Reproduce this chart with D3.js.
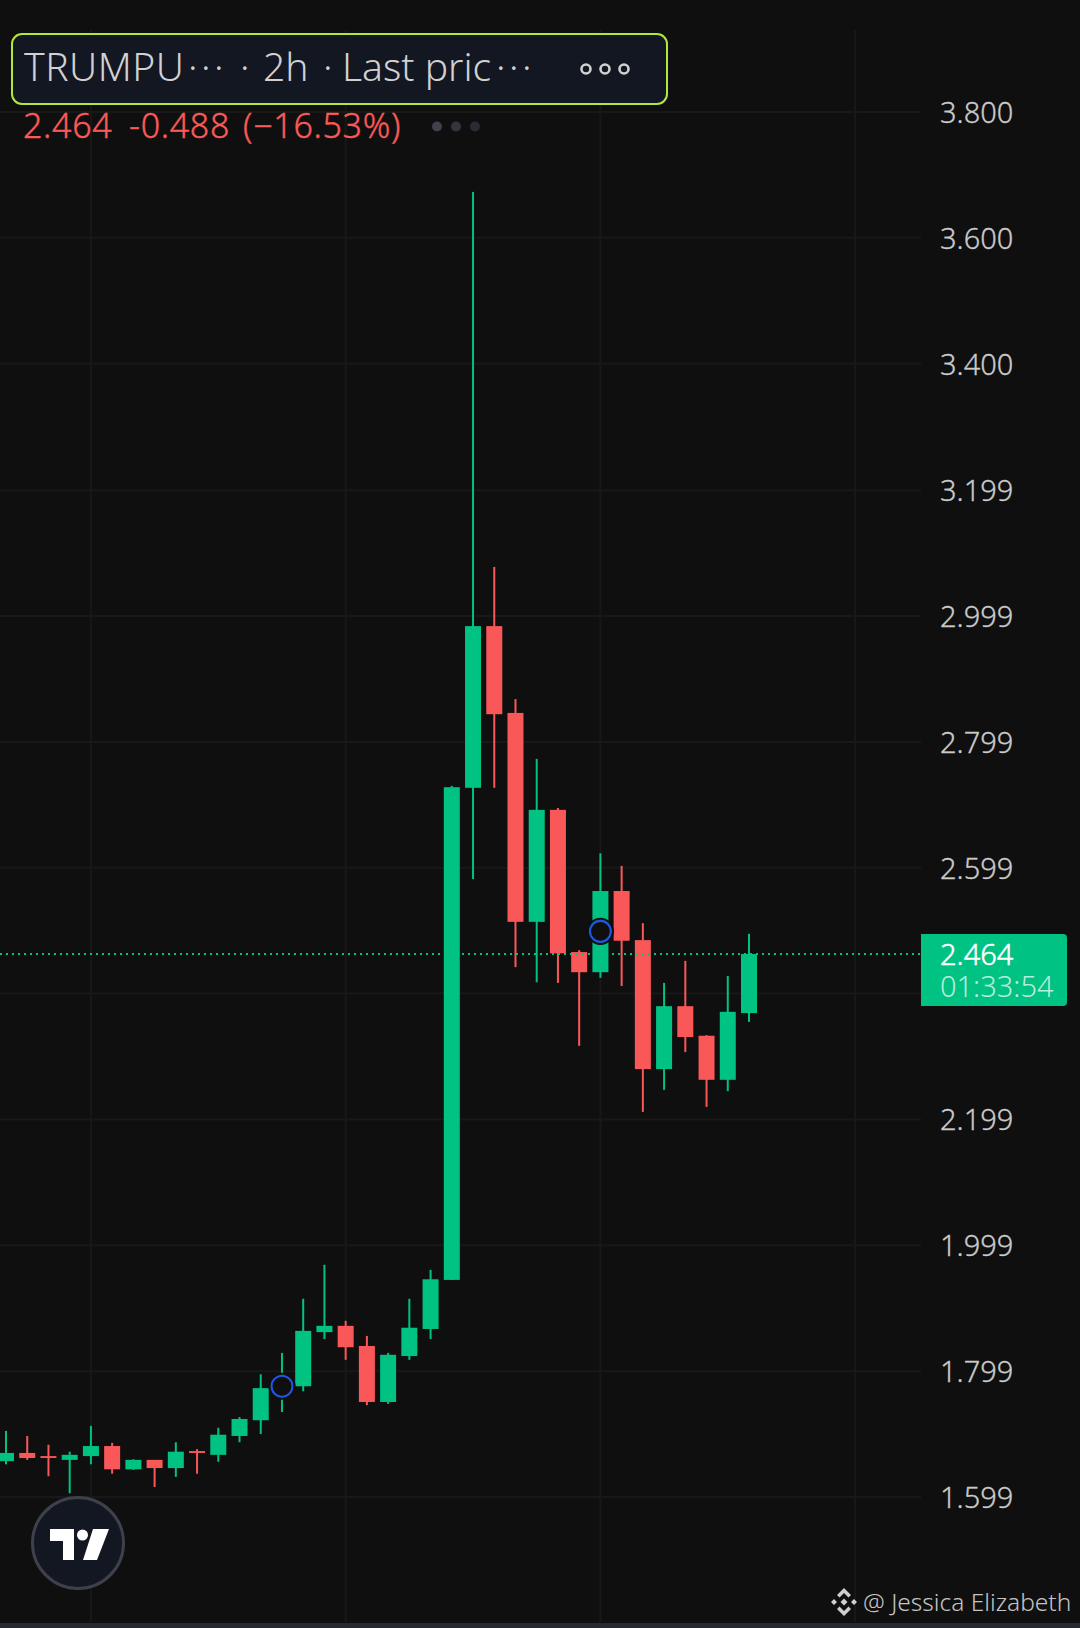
<!DOCTYPE html>
<html>
<head>
<meta charset="utf-8">
<script src="https://cdn.jsdelivr.net/npm/d3@7"></script>
<style>
  html, body { margin: 0; padding: 0; background: #0f0f0f; }
  svg { display: block; }
  text { font-family: "Noto Sans", sans-serif; font-weight: 300; }
</style>
</head>
<body>
<div id="viz"></div>
<script>
// 2h candles
const opens  = [1.656,1.669,1.664,1.658,1.664,1.680,1.643,1.658,1.645,1.672,1.666,1.696,1.721,1.772,1.775,1.861,1.871,1.839,1.750,1.823,1.866,1.944,2.726,2.983,2.845,2.513,2.691,2.465,2.433,2.562,2.484,2.279,2.379,2.332,2.262,2.368];
const highs  = [1.704,1.696,1.682,1.671,1.712,1.685,1.659,1.658,1.686,1.675,1.709,1.726,1.794,1.828,1.914,1.968,1.879,1.855,1.828,1.914,1.960,2.729,3.673,3.077,2.867,2.772,2.694,2.468,2.622,2.602,2.511,2.416,2.451,2.333,2.427,2.494];
const lows   = [1.651,1.658,1.632,1.605,1.651,1.636,1.642,1.615,1.631,1.636,1.655,1.686,1.699,1.734,1.767,1.850,1.817,1.745,1.747,1.817,1.850,1.944,2.581,2.726,2.441,2.417,2.416,2.316,2.424,2.411,2.211,2.246,2.306,2.219,2.244,2.354];
const closes = [1.669,1.661,1.661,1.666,1.680,1.643,1.658,1.645,1.671,1.669,1.698,1.723,1.772,1.783,1.863,1.871,1.837,1.750,1.825,1.868,1.945,2.727,2.983,2.843,2.513,2.691,2.463,2.433,2.562,2.483,2.279,2.379,2.330,2.262,2.370,2.462];

const priceTicks  = [3.8,3.6,3.4,3.199,2.999,2.799,2.599,2.399,2.199,1.999,1.799,1.599];
const priceLabels = ["3.800","3.600","3.400","3.199","2.999","2.799","2.599","2.399","2.199","1.999","1.799","1.599"];
const timeGridBars = [4,16,28,40];  // one line every 12 bars

// blue event circles on the chart
const markerBars   = [13,28];
const markerPrices = [1.775,2.498];

const width = 1080, height = 1628, plotRight = 921;
const GREEN = "#00c283", RED = "#fa5858", BG = "#0f0f0f", GRID = "#181818";

const x = d3.scaleLinear().domain([0,35]).range([6,749]);
const y = d3.scaleLinear().domain([1.599,3.8]).range([1497,112]);

const svg = d3.select("#viz").append("svg")
    .attr("width", width)
    .attr("height", height)
    .style("background", BG);

// grid
svg.append("g").selectAll("line").data(priceTicks).join("line")
    .attr("x1", 0).attr("x2", plotRight)
    .attr("y1", d => y(d)).attr("y2", d => y(d))
    .attr("stroke", GRID).attr("stroke-width", 2);
svg.append("g").selectAll("line").data(timeGridBars).join("line")
    .attr("x1", d => x(d)).attr("x2", d => x(d))
    .attr("y1", 30).attr("y2", 1622)
    .attr("stroke", GRID).attr("stroke-width", 2);

// candles
const bars = d3.range(opens.length);
const colour = i => closes[i] >= opens[i] ? GREEN : RED;
const candles = svg.append("g").selectAll("g").data(bars).join("g");
candles.append("rect")
    .attr("x", i => x(i) - 1)
    .attr("width", 2)
    .attr("y", i => y(highs[i]))
    .attr("height", i => y(lows[i]) - y(highs[i]))
    .attr("fill", colour);
candles.append("rect")
    .attr("x", i => x(i) - 8)
    .attr("width", 16)
    .attr("y", i => y(Math.max(opens[i], closes[i])))
    .attr("height", i => Math.abs(y(opens[i]) - y(closes[i])))
    .attr("fill", colour);

// event markers
svg.append("g").selectAll("circle").data(markerBars).join("circle")
    .attr("cx", d => x(d))
    .attr("cy", (d, i) => y(markerPrices[i]))
    .attr("r", 10.5)
    .attr("fill", BG)
    .attr("stroke", "#2156e4")
    .attr("stroke-width", 2.2);
svg.append("g").selectAll("circle").data(markerBars).join("circle")
    .attr("cx", d => x(d))
    .attr("cy", (d, i) => y(markerPrices[i]))
    .attr("r", 12.6)
    .attr("fill", "none")
    .attr("stroke", BG)
    .attr("stroke-width", 2);

// last price line
const lastPrice = closes[closes.length - 1];
svg.append("line")
    .attr("x1", 0).attr("x2", plotRight)
    .attr("y1", y(lastPrice)).attr("y2", y(lastPrice))
    .attr("stroke", GREEN).attr("stroke-width", 2)
    .attr("stroke-dasharray", "2 4");

// price axis
const axis = d3.axisRight(y)
    .tickValues(priceTicks)
    .tickSize(0)
    .tickPadding(19)
    .tickFormat((d, i) => priceLabels[i]);
const axisG = svg.append("g")
    .attr("transform", `translate(${plotRight},0)`)
    .call(axis);
axisG.select(".domain").remove();
axisG.selectAll("text")
    .style("font-family", '"Noto Sans", sans-serif')
    .style("font-weight", 300)
    .style("font-size", "29px")
    .attr("dy", "0.36em")
    .attr("fill", "#cacaca")
    .attr("stroke", "#cacaca")
    .attr("stroke-width", 0.3);

// last price tag
svg.append("path")
    .attr("d", "M921,934H1063a4,4 0 0 1 4,4V1002a4,4 0 0 1 -4,4H921Z")
    .attr("fill", GREEN);
svg.append("text").attr("x", 940).attr("y", 965)
    .attr("font-size", 29).attr("fill", "#fff")
    .attr("stroke", "#fff").attr("stroke-width", 0.5)
    .text("2.464");
svg.append("text").attr("x", 940).attr("y", 997)
    .attr("font-size", 29).attr("fill", "rgba(255,255,255,0.72)")
    .text("01:33:54");

// header box
svg.append("rect")
    .attr("x", 12).attr("y", 34).attr("width", 655).attr("height", 70)
    .attr("rx", 10)
    .attr("fill", "#131722").attr("stroke", "#b5e63c").attr("stroke-width", 2);
const headerParts = [["TRUMPU",24,0.5],["···",188,3.5],["·",240,0],["2h",263,0],["·",323,0],["Last pric",342,0],["···",496,3.5]];
svg.append("g").selectAll("text").data(headerParts).join("text")
    .attr("x", d => d[1]).attr("y", 81)
    .attr("font-size", 39).attr("fill", "#d1d1d1")
    .attr("letter-spacing", d => d[2])
    .text(d => d[0]);
svg.append("g").selectAll("circle").data([586,605,624]).join("circle")
    .attr("cx", d => d).attr("cy", 69).attr("r", 4.5)
    .attr("fill", "none").attr("stroke", "#d1d1d1").attr("stroke-width", 2.6);

const changeParts = [["2.464",23],["-0.488",129],["(−16.53%)",243]];
svg.append("g").selectAll("text").data(changeParts).join("text")
    .attr("x", d => d[1]).attr("y", 138)
    .attr("font-size", 34).attr("fill", "#fa5a58")
    .attr("stroke", "#fa5a58").attr("stroke-width", 0.4)
    .attr("letter-spacing", 0.7)
    .text(d => d[0]);
svg.append("g").selectAll("circle").data([[437,"#3f424c"],[456,"#34363e"],[475,"#2a2c33"]]).join("circle")
    .attr("cx", d => d[0]).attr("cy", 126.5).attr("r", 5)
    .attr("fill", d => d[1]);

// tradingview badge
const logo = svg.append("g").attr("transform", "translate(0,1380)");
logo.append("circle").attr("cx", 78).attr("cy", 163).attr("r", 45.5)
    .attr("fill", "#131722").attr("stroke", "#3e414b").attr("stroke-width", 3);
logo.append("path").attr("fill", "#fff")
    .attr("d", "M50,149H74V180H63V161H50Z M93,149H109L97,180H83Z");
logo.append("circle").attr("cx", 82.5).attr("cy", 155).attr("r", 5.5).attr("fill", "#fff");

// binance mark and author
const mark = svg.append("g").attr("transform", "translate(844,1602)").attr("fill", "#cfcfcf");
mark.append("path").attr("d", "M0,-14L7,-7L4.5,-4.5L0,-9L-4.5,-4.5L-7,-7Z M0,14L7,7L4.5,4.5L0,9L-4.5,4.5L-7,7Z");
mark.append("path").attr("d", "M0,-3.5L3.5,0L0,3.5L-3.5,0Z M-10,-3L-7,0L-10,3L-13,0Z M10,-3L13,0L10,3L7,0Z");
svg.append("text").attr("x", 863).attr("y", 1611)
    .attr("font-size", 24.5).attr("fill", "#c4c4c4")
    .text("@ Jessica Elizabeth");

// bottom edge
svg.append("rect").attr("x", 0).attr("y", 1623).attr("width", width).attr("height", 5).attr("fill", "#262932");
</script>
</body>
</html>
